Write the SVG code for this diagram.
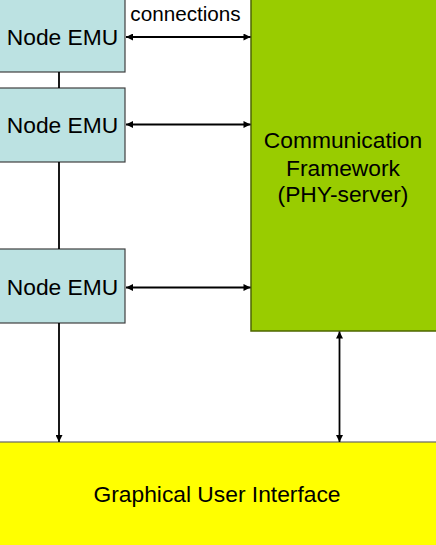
<svg xmlns="http://www.w3.org/2000/svg" width="436" height="545" viewBox="0 0 436 545">
<style>
.node{fill:#BCE2E2;stroke:#404040;stroke-width:1.2}
.t{font-family:"Liberation Sans",Arial,sans-serif;font-size:22.8px;fill:#000;text-anchor:middle}
.c{stroke:#000;stroke-width:1.8;fill:none}
</style>
<defs>
<marker id="ah" viewBox="0 0 10 10" refX="10" refY="5" markerWidth="9" markerHeight="7" markerUnits="userSpaceOnUse" orient="auto-start-reverse">
<path d="M0,0 L10,5 L0,10 z" fill="#000"/>
</marker>
</defs>
<rect width="436" height="545" fill="#fff"/>
<g id="framework">
<rect x="251" y="-5" width="190" height="336" fill="#99CC00" stroke="#4D6600" stroke-width="1.5"/>
<text class="t" x="343" y="147.5" font-size="23">Communication</text>
<text class="t" x="343" y="175.5" font-size="23">Framework</text>
<text class="t" x="343" y="201.5" font-size="23">(PHY-server)</text>
</g>
<g id="gui">
<rect x="-2" y="442" width="440" height="110" fill="#FFFF00" stroke="#666" stroke-width="1.2"/>
<text class="t" x="217" y="501.5" font-size="23.3">Graphical User Interface</text>
</g>
<g id="node1">
<rect class="node" x="-2" y="-10" width="127" height="82"/>
<text class="t" x="62.5" y="45">Node EMU</text>
</g>
<g id="node2">
<rect class="node" x="-2" y="88" width="127" height="74"/>
<text class="t" x="62.5" y="133">Node EMU</text>
</g>
<g id="node3">
<rect class="node" x="-2" y="249" width="127" height="74"/>
<text class="t" x="62.5" y="295">Node EMU</text>
</g>
<g id="connectors">
<line class="c" x1="59" y1="72" x2="59" y2="88"/>
<line class="c" x1="59" y1="162" x2="59" y2="249"/>
<line class="c" x1="59" y1="323" x2="59" y2="442" marker-end="url(#ah)"/>
<line class="c" x1="126" y1="37" x2="250.5" y2="37" marker-start="url(#ah)" marker-end="url(#ah)"/>
<line class="c" x1="126" y1="124.5" x2="250.5" y2="124.5" marker-start="url(#ah)" marker-end="url(#ah)"/>
<line class="c" x1="126" y1="287.5" x2="250.5" y2="287.5" stroke-width="2.2" marker-start="url(#ah)" marker-end="url(#ah)"/>
<line class="c" x1="339.5" y1="331.5" x2="339.5" y2="442" marker-start="url(#ah)" marker-end="url(#ah)"/>
<text x="185.5" y="20.5" font-family="Liberation Sans,Arial,sans-serif" font-size="20.7" text-anchor="middle" fill="#000">connections</text>
</g>
</svg>
